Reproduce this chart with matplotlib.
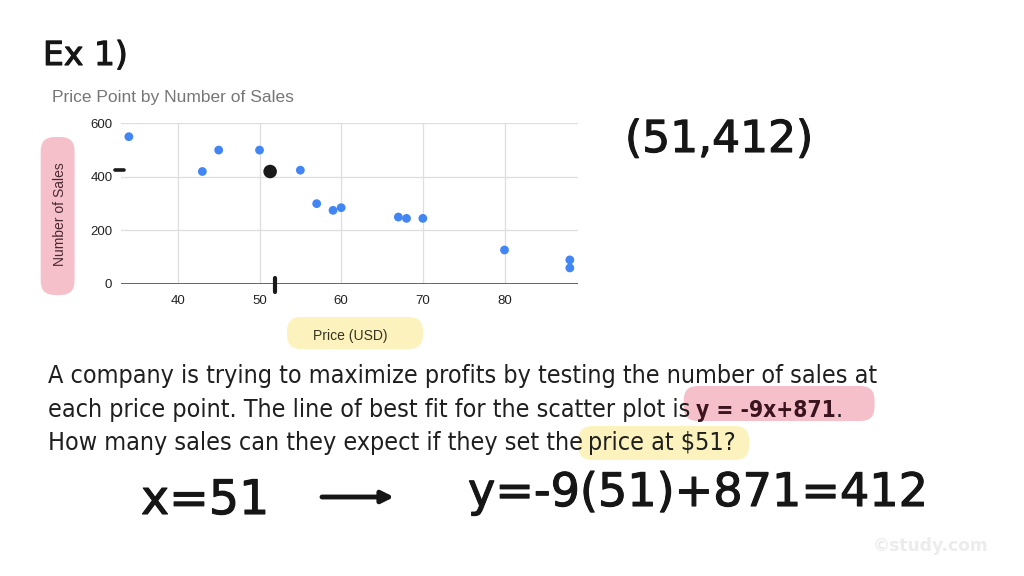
import matplotlib
matplotlib.use('Agg')
import matplotlib.pyplot as plt
from matplotlib import font_manager as fm
from matplotlib import patheffects as pe
from matplotlib.patches import FancyBboxPatch

# ---------------- data ----------------
prices = [34, 43, 45, 50, 55, 57, 59, 60, 67, 68, 70, 80, 88, 88]
sales = [550, 420, 500, 500, 425, 300, 275, 285, 250, 245, 245, 127, 90, 60]
x_ticks = [40, 50, 60, 70, 80]
y_ticks = [0, 200, 400, 600]
x_range = (33, 89)
y_range = (0, 600)
dot_x, dot_y = 51.3, 420          # hand-drawn dot for (51, 412)
guide_y = 425                     # hand-drawn dash on the y axis
guide_y_span = (32.3, 33.4)
guide_x = 51.9                    # hand-drawn dash on the x axis
guide_x_span = (22, -30)

chart_title = "Price Point by Number of Sales"
y_label = "Number of Sales"
x_label = "Price (USD)"
para_line1 = "A company is trying to maximize profits by testing the number of sales at"
para_line2 = "each price point. The line of best fit for the scatter plot is"
para_bold = "y = -9x+871"
para_line3a = "How many sales can they expect if they set the"
para_line3b = "price at $51?"
hand_ex = "Ex 1)"
hand_point = "(51,412)"
hand_x = "x=51"
hand_eq = "y=-9(51)+871=412"
watermark = "\u00a9study.com"

BLUE = "#4285F4"
PINK = "#f5c0c9"
YELLOW = "#fbf2bd"
INK = "#161616"

# ---------------- fonts ----------------
ttf = fm.fontManager.ttflist
names = {f.name for f in ttf}


def _w(f):
    w = f.weight
    if isinstance(w, str):
        return {'ultralight': 200, 'light': 300, 'normal': 400, 'regular': 400,
                'book': 400, 'medium': 500, 'semibold': 600, 'demibold': 600,
                'bold': 700, 'heavy': 800, 'black': 900}.get(w, 400)
    return w


def _cond(f):
    s = f.stretch
    if isinstance(s, str):
        return s in ('condensed', 'semi-condensed', 'extra-condensed', 'ultra-condensed')
    return s < 500


def has_regular(name, need_cond=False):
    return any(f.name == name and 350 <= _w(f) <= 450 and f.style == 'normal'
               and (_cond(f) or not need_cond) for f in ttf)


para_family = None
para_stretch = 'normal'
for cand in ['Open Sans Condensed', 'Liberation Sans Narrow', 'DejaVu Sans Condensed']:
    if has_regular(cand):
        para_family = cand
        break
if para_family is None:
    for fam in ['Open Sans', 'DejaVu Sans']:
        if has_regular(fam, need_cond=True):
            para_family = fam
            para_stretch = 'condensed'
            break
if para_family is None:
    para_family = 'Open Sans' if 'Open Sans' in names else 'DejaVu Sans'

chart_family = 'Liberation Sans' if 'Liberation Sans' in names else 'DejaVu Sans'
hand_family = 'DejaVu Sans'

# ---------------- figure ----------------
W, H = 1024, 576
fig = plt.figure(figsize=(W / 100, H / 100), dpi=100, facecolor='white')
bg = fig.add_axes([0, 0, 1, 1], zorder=0)
bg.set_xlim(0, W)
bg.set_ylim(H, 0)
bg.axis('off')

# chart axes
L, R, T, B = 120.7, 578, 123.3, 284
ax = fig.add_axes([L / W, 1 - B / H, (R - L) / W, (B - T) / H], zorder=2)
ax.patch.set_alpha(0)
ax.set_xlim(*x_range)
ax.set_ylim(*y_range)
for s in ax.spines.values():
    s.set_visible(False)
ax.set_xticks(x_ticks)
ax.set_yticks(y_ticks)
ax.tick_params(axis='both', length=0, labelsize=9.5, labelcolor='#222222')
ax.tick_params(axis='x', pad=8)
ax.tick_params(axis='y', pad=6)
for lab in ax.get_xticklabels() + ax.get_yticklabels():
    lab.set_family(chart_family)
for v in x_ticks:
    ax.axvline(v, color='#dedede', lw=0.9, zorder=1)
for v in y_ticks[1:]:
    ax.axhline(v, color='#dedede', lw=0.9, zorder=1)
ax.axhline(0, color='#5a5a5a', lw=1.3, zorder=2)

ax.scatter(prices, sales, s=40, color=BLUE, edgecolors='none', zorder=3, clip_on=False)
ax.scatter([dot_x], [dot_y], s=95, color='#1a1a1a', edgecolors='none', zorder=4, clip_on=False)
ax.plot(guide_y_span, [guide_y, guide_y], color='#1a1a1a', lw=2.6,
        solid_capstyle='round', clip_on=False, zorder=4)
ax.plot([guide_x, guide_x], guide_x_span, color='#1a1a1a', lw=3.0,
        solid_capstyle='round', clip_on=False, zorder=4)


# highlights
def blob(x0, y0, x1, y1, color, r):
    p = FancyBboxPatch((x0 + r, y0 + r), (x1 - x0) - 2 * r, (y1 - y0) - 2 * r,
                       boxstyle=f"round,pad={r}", fc=color, ec='none', zorder=1,
                       transform=bg.transData)
    bg.add_patch(p)


blob(40.7, 137, 74.6, 295, PINK, 14)
blob(287, 317, 423, 349, YELLOW, 14)

bg.text(52, 102, chart_title, family=chart_family, fontsize=12.5, color='#767676',
        ha='left', va='baseline', zorder=3)
bg.text(60.5, 214, y_label, family=chart_family, fontsize=10, color='#4a2830',
        rotation=90, ha='center', va='center', zorder=3)
bg.text(350, 336, x_label, family=chart_family, fontsize=10, color='#35321f',
        ha='center', va='center', zorder=3)

renderer = fig.canvas.get_renderer()


def ext(t):
    bb = t.get_window_extent(renderer)
    return bb.x0, bb.x1


def fit(t, target_w):
    x0, x1 = ext(t)
    t.set_fontsize(t.get_fontsize() * target_w / (x1 - x0))


# ---------------- paragraph ----------------
pkw = dict(family=para_family, stretch=para_stretch, fontweight='normal',
           color='#1f1f1f', ha='left', va='baseline', zorder=3)
t1 = bg.text(48.3, 383, para_line1, fontsize=19, **pkw)
fit(t1, 829)
fs = t1.get_fontsize()
pkw['fontsize'] = fs
t2 = bg.text(48.3, 417, para_line2, **pkw)
_, e2 = ext(t2)
space = 0.2 * fs * 100 / 72
bkw = dict(pkw)
bkw.update(fontweight='bold', color='#3b1420')
tb = bg.text(e2 + space, 417, para_bold, **bkw)
fit(tb, 140)
b0, b1 = ext(tb)
tp = bg.text(b1, 417, ".", **pkw)
_, pend = ext(tp)
blob(b0 - 12, 386, pend + 32, 421, PINK, 14)

t3 = bg.text(48.3, 450, para_line3a, **pkw)
_, e3 = ext(t3)
t3b = bg.text(e3 + space, 450, para_line3b, **pkw)
y0_, y1_ = ext(t3b)
blob(y0_ - 10, 426, y1_ + 13, 460, YELLOW, 14)

# ---------------- handwriting ----------------
thick = [pe.withStroke(linewidth=0.8, foreground=INK)]
hkw = dict(family=hand_family, color=INK, ha='left', va='baseline', zorder=3,
           path_effects=thick)
h1 = bg.text(43, 65, hand_ex, fontsize=24, **hkw)
fit(h1, 85)
h2 = bg.text(625, 152, hand_point, fontsize=30, **hkw)
fit(h2, 188)
h3 = bg.text(141, 514, hand_x, fontsize=30, **hkw)
fit(h3, 128)
h4 = bg.text(468, 506, hand_eq, fontsize=30, **hkw)
fit(h4, 459)
bg.annotate('', xy=(394, 497), xytext=(322, 497),
            arrowprops=dict(arrowstyle='-|>,head_length=0.7,head_width=0.35',
                            color=INK, lw=3.5, shrinkA=0, shrinkB=0), zorder=3)

wm = bg.text(873, 551, watermark, family='DejaVu Sans', fontweight='bold',
             fontsize=13, color='#ececec', ha='left', va='baseline', zorder=3)
fit(wm, 115)

fig.savefig('out.png', dpi=100, facecolor='white')
